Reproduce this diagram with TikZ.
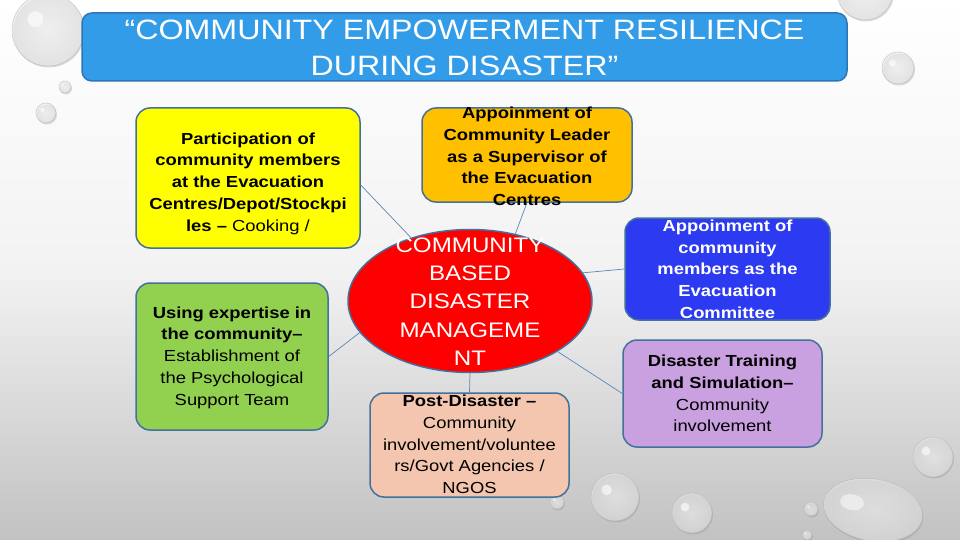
\documentclass[tikz,border=0pt]{standalone}
\usepackage{fontspec}
\setmainfont{Liberation Sans}[FakeStretch=1.15]
\usetikzlibrary{shapes.geometric}
\definecolor{titleblue}{HTML}{339CE8}
\definecolor{titleedge}{HTML}{2E75B6}
\definecolor{edgeblue}{HTML}{41719C}
\definecolor{linkblue}{HTML}{5A86B5}
\definecolor{yellowfill}{HTML}{FFFF00}
\definecolor{greenfill}{HTML}{92D050}
\definecolor{orangefill}{HTML}{FFC000}
\definecolor{redfill}{HTML}{FF0000}
\definecolor{peachfill}{HTML}{F4C6AF}
\definecolor{bluefill}{HTML}{2C3AF2}
\definecolor{purplefill}{HTML}{C9A0E0}
\newcommand{\mydrop}[3]{%
  \fill[black!45, opacity=0.3] (#1+1,#2+1.5) circle (#3);
  \shade[inner color=white, outer color=black!8, opacity=0.55] (#1,#2) circle (#3);
  \draw[black!30, line width=0.5pt, opacity=0.7] (#1,#2) circle (#3);
  \fill[white, opacity=0.6] (#1-0.35*#3,#2-0.3*#3) circle (0.22*#3);
}
\begin{document}
\begin{tikzpicture}[x=1pt,y=-1pt,
  box/.style={draw=edgeblue, line width=1.5pt, rounded corners=14pt, inner sep=0pt},
  txt/.style={align=center, inner sep=0pt, font=\fontsize{16}{21.7}\selectfont},
  link/.style={draw=linkblue, line width=0.7pt}]
\useasboundingbox (0,0) rectangle (960,540);
\shade[top color=white, bottom color=black!24, middle color=black!5] (0,0) rectangle (960,540);
% droplets
\mydrop{48}{30}{36}
\mydrop{65}{87}{6}
\mydrop{46}{113}{10}
\mydrop{865}{-8}{28}
\mydrop{898}{68}{16}
\mydrop{557}{502}{7}
\mydrop{615}{497}{24}
\mydrop{692}{513}{20}
\mydrop{811}{509}{7}
\mydrop{807}{535}{5}
\mydrop{933}{457}{20}
\begin{scope}[shift={(873,510)}, rotate=-10]
  \fill[black!45, opacity=0.3] (1,1.5) ellipse (50 and 31);
  \shade[inner color=white, outer color=black!8, opacity=0.55] (0,0) ellipse (50 and 31);
  \draw[black!30, line width=0.5pt, opacity=0.7] (0,0) ellipse (50 and 31);
  \fill[white, opacity=0.5] (-22,-4) ellipse (12 and 8);
\end{scope}
% title
\node[draw=titleedge, fill=titleblue, line width=1.5pt, rounded corners=10pt,
  minimum width=765pt, minimum height=68pt, inner sep=0pt] (title) at (464.5,47) {};
\node[align=center, inner sep=0pt, text=white, font=\fontsize{28}{36}\selectfont]
  (titletext) at (464.5,48) {“COMMUNITY EMPOWERMENT RESILIENCE\\DURING DISASTER”};
% boxes
\node[box, fill=yellowfill, minimum width=224pt, minimum height=140pt] (yb) at (248,178) {};
\node[box, fill=greenfill, minimum width=192pt, minimum height=147pt] (gb) at (232,356.5) {};
\node[box, fill=orangefill, minimum width=210pt, minimum height=94pt] (ob) at (527,155) {};
\node[box, fill=peachfill, minimum width=199pt, minimum height=104pt] (pdb) at (469.5,445) {};
\node[box, fill=bluefill, minimum width=205pt, minimum height=102pt] (bb) at (727.5,269) {};
\node[box, fill=purplefill, minimum width=199pt, minimum height=107pt] (pb) at (722.5,393.5) {};
\node[ellipse, draw=edgeblue, line width=1.5pt, fill=redfill, inner sep=0pt,
  minimum width=244pt, minimum height=143pt] (ell) at (470,301) {};
% connectors
\draw[link] ([yshift=-7pt]yb.east) -- (ell.133);
\draw[link] (ob.south) -- (ell.56);
\draw[link] (bb.west) -- (ell.14);
\draw[link] (pb.west) -- (ell.-30);
\draw[link] (gb.east) -- (ell.196);
\draw[link] (pdb.north) -- (ell.south);
% texts
\node[txt] (yt) at (248,183.5) {\textbf{Participation of}\\\textbf{community members}\\\textbf{at the Evacuation}\\\textbf{Centres/Depot/Stockpi}\\\textbf{les –} Cooking /};
\node[txt] (gt) at (232,357.5) {\textbf{Using expertise in}\\\textbf{the community–}\\Establishment of\\the Psychological\\Support Team};
\node[txt] (ot) at (527,156.5) {\textbf{Appoinment of}\\\textbf{Community Leader}\\\textbf{as a Supervisor of}\\\textbf{the Evacuation}\\\textbf{Centres}};
\node[align=center, inner sep=0pt, text=white, font=\fontsize{21}{28.3}\selectfont]
  (et) at (470,301.5) {COMMUNITY\\BASED\\DISASTER\\MANAGEME\\NT};
\node[txt] (pdt) at (469.5,444.5) {\textbf{Post-Disaster –}\\Community\\involvement/voluntee\\rs/Govt Agencies /\\NGOS};
\node[txt, text=white] (bt) at (727.5,269) {\textbf{Appoinment of}\\\textbf{community}\\\textbf{members as the}\\\textbf{Evacuation}\\\textbf{Committee}};
\node[txt] (pt) at (722.5,393.5) {\textbf{Disaster Training}\\\textbf{and Simulation–}\\Community\\involvement};
\end{tikzpicture}
\end{document}
